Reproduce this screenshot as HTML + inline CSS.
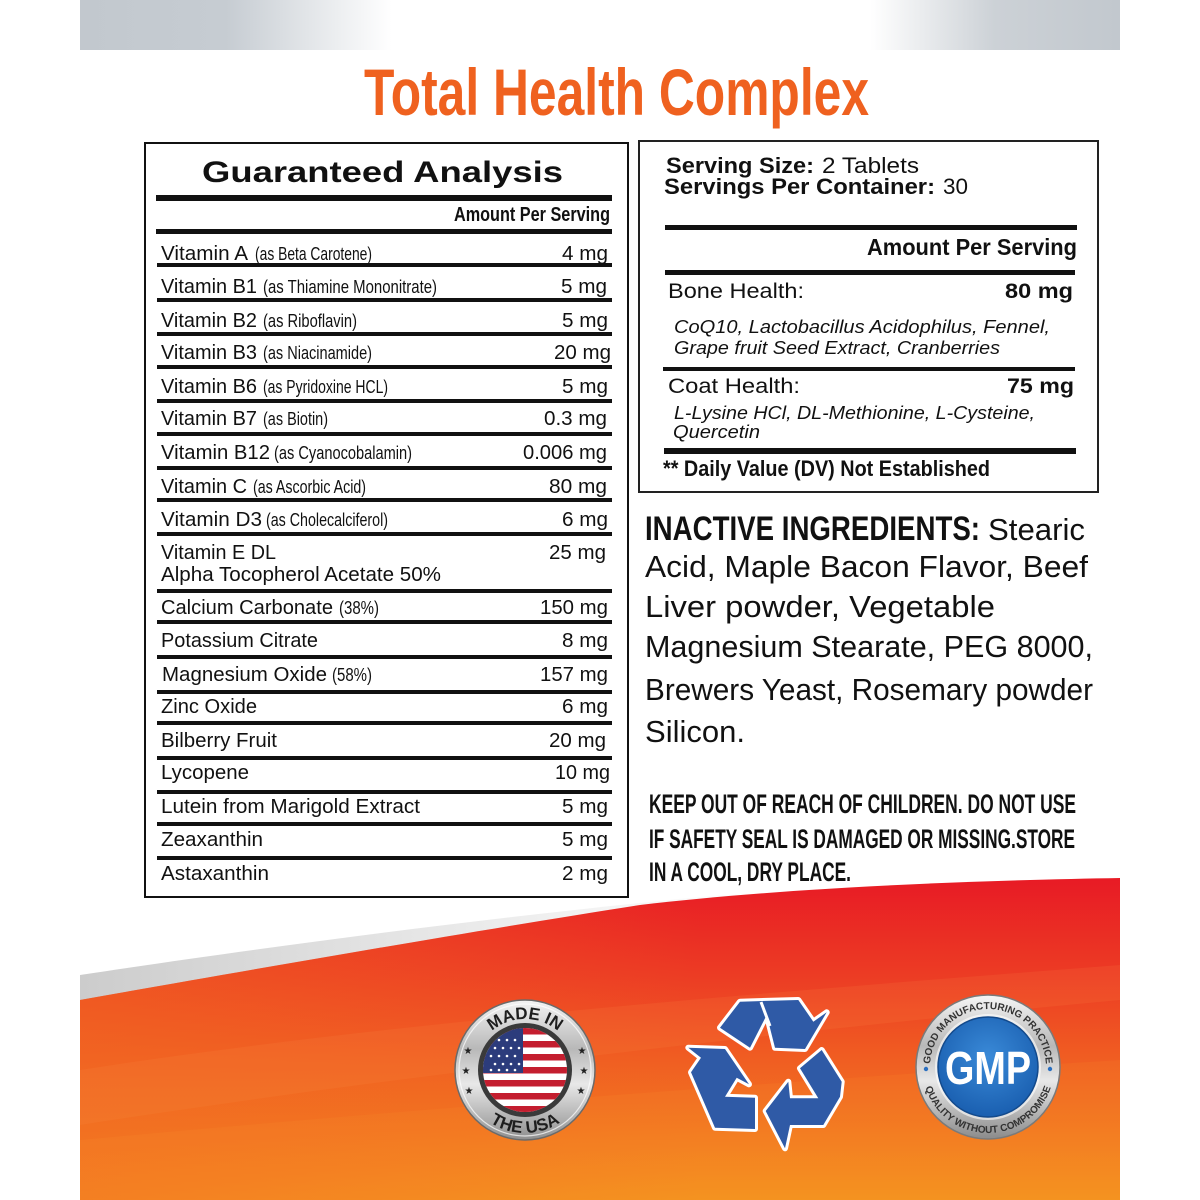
<!DOCTYPE html>
<html>
<head>
<meta charset="utf-8">
<style>
html,body{margin:0;padding:0;background:#fff;}
svg{display:block;}
text{font-family:"Liberation Sans",Arial,sans-serif;fill:#111;}
</style>
</head>
<body>
<svg width="1200" height="1200" viewBox="0 0 1200 1200" xmlns="http://www.w3.org/2000/svg">
<defs>
  <linearGradient id="topbar" x1="80" y1="0" x2="1120" y2="0" gradientUnits="userSpaceOnUse">
    <stop offset="0" stop-color="#c2c8ce"/>
    <stop offset="0.14" stop-color="#c6ccd2"/>
    <stop offset="0.30" stop-color="#ffffff"/>
    <stop offset="0.76" stop-color="#ffffff"/>
    <stop offset="0.88" stop-color="#ccd1d6"/>
    <stop offset="1" stop-color="#c2c8ce"/>
  </linearGradient>
  <linearGradient id="orange" x1="0" y1="880" x2="0" y2="1200" gradientUnits="userSpaceOnUse">
    <stop offset="0" stop-color="#e81b25"/>
    <stop offset="0.3" stop-color="#ec3c24"/>
    <stop offset="0.55" stop-color="#f05c22"/>
    <stop offset="0.8" stop-color="#f27a20"/>
    <stop offset="1" stop-color="#f3921e"/>
  </linearGradient>
  <linearGradient id="leftglow" x1="80" y1="0" x2="700" y2="0" gradientUnits="userSpaceOnUse">
    <stop offset="0" stop-color="#f26a22" stop-opacity="0.55"/>
    <stop offset="1" stop-color="#f26a22" stop-opacity="0"/>
  </linearGradient>
  <linearGradient id="swoosh" x1="80" y1="0" x2="760" y2="0" gradientUnits="userSpaceOnUse">
    <stop offset="0" stop-color="#cccccc"/>
    <stop offset="0.5" stop-color="#e6e6e6"/>
    <stop offset="1" stop-color="#ffffff"/>
  </linearGradient>
  <linearGradient id="silver" x1="0" y1="-70" x2="0" y2="70" gradientUnits="userSpaceOnUse">
    <stop offset="0" stop-color="#f4f4f4"/>
    <stop offset="0.35" stop-color="#b8b8b8"/>
    <stop offset="0.6" stop-color="#e8e8e8"/>
    <stop offset="1" stop-color="#8e8e8e"/>
  </linearGradient>
  <radialGradient id="gmpblue" cx="0" cy="-10" r="60" gradientUnits="userSpaceOnUse">
    <stop offset="0" stop-color="#3a8ad8"/>
    <stop offset="1" stop-color="#1a5fb0"/>
  </radialGradient>
  <clipPath id="flagclip"><circle cx="0" cy="0" r="42"/></clipPath>
  <path id="usaTop" d="M -51,0 A 51 51 0 0 1 51,0" fill="none"/>
  <path id="usaBot" d="M -63,0 A 63 63 0 0 0 63,0" fill="none"/>
  <path id="gmpTop" d="M -58,0 A 58 58 0 0 1 58,0" fill="none"/>
  <path id="gmpBot" d="M -66,0 A 66 66 0 0 0 66,0" fill="none"/>
</defs>

<!-- top bar -->
<rect x="80" y="0" width="1040" height="50" fill="url(#topbar)"/>

<!-- title -->
<text x="364" y="115" font-size="66" font-weight="bold" style="fill:#ef611f" textLength="505" lengthAdjust="spacingAndGlyphs">Total Health Complex</text>

<!-- bottom background -->
<path d="M80,975 C260,948 480,918 720,895 C900,884 1040,879 1120,877 L1120,1200 L80,1200 Z" fill="url(#swoosh)"/>
<path d="M80,1000 C260,968 480,930 640,905 C800,886 1000,880 1120,878 L1120,1200 L80,1200 Z" fill="url(#orange)"/>
<path d="M80,1000 C260,968 480,930 640,905 L700,905 L700,1200 L80,1200 Z" fill="url(#leftglow)"/>
<path d="M80,1070 C400,1020 800,990 1120,965 L1120,1000 C800,1030 400,1075 80,1125 Z" fill="#ff9a50" opacity="0.12"/>
<path d="M80,1140 C400,1110 800,1080 1120,1060 L1120,1200 L80,1200 Z" fill="#ffa030" opacity="0.12"/>

<!-- LEFT BOX -->
<rect x="145" y="143" width="483" height="754" fill="#fff" stroke="#111" stroke-width="2"/>
<text x="202" y="182" font-size="30" font-weight="bold" textLength="361" lengthAdjust="spacingAndGlyphs">Guaranteed Analysis</text>
<rect x="156" y="195" width="456" height="6" fill="#111"/>
<text x="454" y="221" font-size="20" font-weight="bold" textLength="156" lengthAdjust="spacingAndGlyphs">Amount Per Serving</text>
<rect x="156" y="229" width="456" height="5" fill="#111"/>

<g font-size="20">
  <g fill="#111">
    <rect x="157" y="263" width="455" height="4"/>
    <rect x="157" y="298" width="455" height="4"/>
    <rect x="157" y="332" width="455" height="4"/>
    <rect x="157" y="365" width="455" height="4"/>
    <rect x="157" y="399" width="455" height="4"/>
    <rect x="157" y="432" width="455" height="4"/>
    <rect x="157" y="466" width="455" height="4"/>
    <rect x="157" y="498" width="455" height="4"/>
    <rect x="157" y="532" width="455" height="4"/>
    <rect x="157" y="589" width="455" height="4"/>
    <rect x="157" y="620" width="455" height="4"/>
    <rect x="157" y="655" width="455" height="4"/>
    <rect x="157" y="690" width="455" height="4"/>
    <rect x="157" y="721" width="455" height="4"/>
    <rect x="157" y="756" width="455" height="4"/>
    <rect x="157" y="790" width="455" height="4"/>
    <rect x="157" y="822" width="455" height="4"/>
    <rect x="157" y="856" width="455" height="4"/>
  </g>

  <text x="161" y="260" textLength="87" lengthAdjust="spacingAndGlyphs">Vitamin A</text>
  <text x="255" y="260" font-size="18" textLength="117" lengthAdjust="spacingAndGlyphs">(as Beta Carotene)</text>
  <text x="562" y="260" textLength="46" lengthAdjust="spacingAndGlyphs">4 mg</text>

  <text x="161" y="293" textLength="96" lengthAdjust="spacingAndGlyphs">Vitamin B1</text>
  <text x="263" y="293" font-size="18" textLength="174" lengthAdjust="spacingAndGlyphs">(as Thiamine Mononitrate)</text>
  <text x="561" y="293" textLength="46" lengthAdjust="spacingAndGlyphs">5 mg</text>

  <text x="161" y="327" textLength="96" lengthAdjust="spacingAndGlyphs">Vitamin B2</text>
  <text x="263" y="327" font-size="18" textLength="94" lengthAdjust="spacingAndGlyphs">(as Riboflavin)</text>
  <text x="562" y="327" textLength="46" lengthAdjust="spacingAndGlyphs">5 mg</text>

  <text x="161" y="359" textLength="96" lengthAdjust="spacingAndGlyphs">Vitamin B3</text>
  <text x="263" y="359" font-size="18" textLength="109" lengthAdjust="spacingAndGlyphs">(as Niacinamide)</text>
  <text x="554" y="359" textLength="57" lengthAdjust="spacingAndGlyphs">20 mg</text>

  <text x="161" y="393" textLength="96" lengthAdjust="spacingAndGlyphs">Vitamin B6</text>
  <text x="263" y="393" font-size="18" textLength="125" lengthAdjust="spacingAndGlyphs">(as Pyridoxine HCL)</text>
  <text x="562" y="393" textLength="46" lengthAdjust="spacingAndGlyphs">5 mg</text>

  <text x="161" y="425" textLength="96" lengthAdjust="spacingAndGlyphs">Vitamin B7</text>
  <text x="263" y="425" font-size="18" textLength="65" lengthAdjust="spacingAndGlyphs">(as Biotin)</text>
  <text x="544" y="425" textLength="63" lengthAdjust="spacingAndGlyphs">0.3 mg</text>

  <text x="161" y="459" textLength="109" lengthAdjust="spacingAndGlyphs">Vitamin B12</text>
  <text x="274" y="459" font-size="18" textLength="138" lengthAdjust="spacingAndGlyphs">(as Cyanocobalamin)</text>
  <text x="523" y="459" textLength="84" lengthAdjust="spacingAndGlyphs">0.006 mg</text>

  <text x="161" y="493" textLength="86" lengthAdjust="spacingAndGlyphs">Vitamin C</text>
  <text x="253" y="493" font-size="18" textLength="113" lengthAdjust="spacingAndGlyphs">(as Ascorbic Acid)</text>
  <text x="549" y="493" textLength="58" lengthAdjust="spacingAndGlyphs">80 mg</text>

  <text x="161" y="526" textLength="101" lengthAdjust="spacingAndGlyphs">Vitamin D3</text>
  <text x="266" y="526" font-size="18" textLength="122" lengthAdjust="spacingAndGlyphs">(as Cholecalciferol)</text>
  <text x="562" y="526" textLength="46" lengthAdjust="spacingAndGlyphs">6 mg</text>

  <text x="161" y="559" textLength="115" lengthAdjust="spacingAndGlyphs">Vitamin E DL</text>
  <text x="161" y="581" textLength="280" lengthAdjust="spacingAndGlyphs">Alpha Tocopherol Acetate 50%</text>
  <text x="549" y="559" textLength="57" lengthAdjust="spacingAndGlyphs">25 mg</text>

  <text x="161" y="614" textLength="172" lengthAdjust="spacingAndGlyphs">Calcium Carbonate</text>
  <text x="339" y="614" font-size="18" textLength="40" lengthAdjust="spacingAndGlyphs">(38%)</text>
  <text x="540" y="614" textLength="68" lengthAdjust="spacingAndGlyphs">150 mg</text>

  <text x="161" y="647" textLength="157" lengthAdjust="spacingAndGlyphs">Potassium Citrate</text>
  <text x="562" y="647" textLength="46" lengthAdjust="spacingAndGlyphs">8 mg</text>

  <text x="162" y="681" textLength="165" lengthAdjust="spacingAndGlyphs">Magnesium Oxide</text>
  <text x="332" y="681" font-size="18" textLength="40" lengthAdjust="spacingAndGlyphs">(58%)</text>
  <text x="540" y="681" textLength="68" lengthAdjust="spacingAndGlyphs">157 mg</text>

  <text x="161" y="713" textLength="96" lengthAdjust="spacingAndGlyphs">Zinc Oxide</text>
  <text x="562" y="713" textLength="46" lengthAdjust="spacingAndGlyphs">6 mg</text>

  <text x="161" y="747" textLength="116" lengthAdjust="spacingAndGlyphs">Bilberry Fruit</text>
  <text x="549" y="747" textLength="57" lengthAdjust="spacingAndGlyphs">20 mg</text>

  <text x="161" y="779" textLength="88" lengthAdjust="spacingAndGlyphs">Lycopene</text>
  <text x="555" y="779" textLength="55" lengthAdjust="spacingAndGlyphs">10 mg</text>

  <text x="161" y="813" textLength="259" lengthAdjust="spacingAndGlyphs">Lutein from Marigold Extract</text>
  <text x="562" y="813" textLength="46" lengthAdjust="spacingAndGlyphs">5 mg</text>

  <text x="161" y="846" textLength="102" lengthAdjust="spacingAndGlyphs">Zeaxanthin</text>
  <text x="562" y="846" textLength="46" lengthAdjust="spacingAndGlyphs">5 mg</text>

  <text x="161" y="880" textLength="108" lengthAdjust="spacingAndGlyphs">Astaxanthin</text>
  <text x="562" y="880" textLength="46" lengthAdjust="spacingAndGlyphs">2 mg</text>
</g>

<!-- RIGHT BOX -->
<rect x="639" y="141" width="459" height="351" fill="#fff" stroke="#222" stroke-width="2"/>
<text x="666" y="173" font-size="22" font-weight="bold" textLength="148" lengthAdjust="spacingAndGlyphs">Serving Size:</text>
<text x="822" y="173" font-size="22" textLength="97" lengthAdjust="spacingAndGlyphs">2 Tablets</text>
<text x="664" y="194" font-size="22" font-weight="bold" textLength="271" lengthAdjust="spacingAndGlyphs">Servings Per Container:</text>
<text x="943" y="194" font-size="22" textLength="25" lengthAdjust="spacingAndGlyphs">30</text>
<rect x="665" y="225" width="412" height="5" fill="#111"/>
<text x="867" y="255" font-size="23" font-weight="bold" textLength="210" lengthAdjust="spacingAndGlyphs">Amount Per Serving</text>
<rect x="665" y="270" width="410" height="5" fill="#111"/>
<text x="668" y="298" font-size="21" textLength="136" lengthAdjust="spacingAndGlyphs">Bone Health:</text>
<text x="1005" y="298" font-size="21" font-weight="bold" textLength="68" lengthAdjust="spacingAndGlyphs">80 mg</text>
<text x="674" y="333" font-size="18" font-style="italic" textLength="376" lengthAdjust="spacingAndGlyphs">CoQ10, Lactobacillus Acidophilus, Fennel,</text>
<text x="674" y="354" font-size="18" font-style="italic" textLength="326" lengthAdjust="spacingAndGlyphs">Grape fruit Seed Extract, Cranberries</text>
<rect x="663" y="367" width="412" height="4" fill="#111"/>
<text x="668" y="393" font-size="21" textLength="132" lengthAdjust="spacingAndGlyphs">Coat Health:</text>
<text x="1007" y="393" font-size="21" font-weight="bold" textLength="67" lengthAdjust="spacingAndGlyphs">75 mg</text>
<text x="674" y="419" font-size="18" font-style="italic" textLength="361" lengthAdjust="spacingAndGlyphs">L-Lysine HCl, DL-Methionine, L-Cysteine,</text>
<text x="673" y="438" font-size="18" font-style="italic" textLength="87" lengthAdjust="spacingAndGlyphs">Quercetin</text>
<rect x="664" y="448" width="412" height="6" fill="#111"/>
<text x="663" y="476" font-size="22" font-weight="bold" textLength="327" lengthAdjust="spacingAndGlyphs">** Daily Value (DV) Not Established</text>

<!-- INACTIVE INGREDIENTS -->
<text x="645" y="540" font-size="34" font-weight="bold" textLength="335" lengthAdjust="spacingAndGlyphs">INACTIVE INGREDIENTS:</text>
<text x="988" y="540" font-size="31" textLength="97" lengthAdjust="spacingAndGlyphs">Stearic</text>
<text x="645" y="577" font-size="31" textLength="443" lengthAdjust="spacingAndGlyphs">Acid, Maple Bacon Flavor, Beef</text>
<text x="645" y="617" font-size="31" textLength="350" lengthAdjust="spacingAndGlyphs">Liver powder, Vegetable</text>
<text x="645" y="657" font-size="31" textLength="448" lengthAdjust="spacingAndGlyphs">Magnesium  Stearate, PEG 8000,</text>
<text x="645" y="700" font-size="31" textLength="448" lengthAdjust="spacingAndGlyphs">Brewers Yeast, Rosemary powder</text>
<text x="645" y="742" font-size="31" textLength="100" lengthAdjust="spacingAndGlyphs">Silicon.</text>

<!-- WARNING -->
<text x="649" y="813" font-size="27" font-weight="bold" textLength="427" lengthAdjust="spacingAndGlyphs">KEEP OUT OF REACH OF CHILDREN.  DO NOT USE</text>
<text x="649" y="848" font-size="27" font-weight="bold" textLength="426" lengthAdjust="spacingAndGlyphs">IF SAFETY SEAL IS DAMAGED OR MISSING.STORE</text>
<text x="649" y="881" font-size="27" font-weight="bold" textLength="202" lengthAdjust="spacingAndGlyphs">IN A COOL, DRY PLACE.</text>

<!-- MADE IN USA badge -->
<g transform="translate(525,1070)">
  <circle r="70" fill="url(#silver)" stroke="#6a6a6a" stroke-width="1.5"/>
  <circle r="66" fill="none" stroke="#ffffff" stroke-width="1.2" opacity="0.7"/>
  <circle r="47" fill="#3a3a3a"/>
  <g clip-path="url(#flagclip)">
    <rect x="-42" y="-42" width="84" height="84" fill="#ffffff"/>
    <rect x="-42" y="-42" width="84" height="6.5" fill="#c41e2f"/>
    <rect x="-42" y="-29" width="84" height="6.5" fill="#c41e2f"/>
    <rect x="-42" y="-16" width="84" height="6.5" fill="#c41e2f"/>
    <rect x="-42" y="-3" width="84" height="6.5" fill="#c41e2f"/>
    <rect x="-42" y="10" width="84" height="6.5" fill="#c41e2f"/>
    <rect x="-42" y="23" width="84" height="6.5" fill="#c41e2f"/>
    <rect x="-42" y="36" width="84" height="6.5" fill="#c41e2f"/>
    <rect x="-42" y="-42" width="40" height="45" fill="#2c3c7c"/>
    <g fill="#ffffff">
      <circle cx="-34" cy="-30" r="1.3"/><circle cx="-26" cy="-30" r="1.3"/><circle cx="-18" cy="-30" r="1.3"/><circle cx="-10" cy="-30" r="1.3"/>
      <circle cx="-30" cy="-22" r="1.3"/><circle cx="-22" cy="-22" r="1.3"/><circle cx="-14" cy="-22" r="1.3"/><circle cx="-6" cy="-22" r="1.3"/>
      <circle cx="-34" cy="-14" r="1.3"/><circle cx="-26" cy="-14" r="1.3"/><circle cx="-18" cy="-14" r="1.3"/><circle cx="-10" cy="-14" r="1.3"/>
      <circle cx="-30" cy="-6" r="1.3"/><circle cx="-22" cy="-6" r="1.3"/><circle cx="-14" cy="-6" r="1.3"/><circle cx="-6" cy="-6" r="1.3"/>
      <circle cx="-34" cy="0" r="1.3"/><circle cx="-26" cy="0" r="1.3"/><circle cx="-18" cy="0" r="1.3"/><circle cx="-10" cy="0" r="1.3"/>
    </g>
  </g>
  <text font-size="17" font-weight="bold" style="fill:#1e1e1e"><textPath href="#usaTop" startOffset="50%" text-anchor="middle">MADE IN</textPath></text>
  <text font-size="17" font-weight="bold" style="fill:#1e1e1e"><textPath href="#usaBot" startOffset="50%" text-anchor="middle">THE USA</textPath></text>
  <g font-size="10" text-anchor="middle">
    <text x="-57" y="-16" style="fill:#222">★</text>
    <text x="-59" y="4" style="fill:#222">★</text>
    <text x="-56" y="24" style="fill:#222">★</text>
    <text x="57" y="-16" style="fill:#222">★</text>
    <text x="59" y="4" style="fill:#222">★</text>
    <text x="56" y="24" style="fill:#222">★</text>
  </g>
</g>

<!-- Recycle symbol -->
<g fill="#2f5aa6" stroke="#ffffff" stroke-width="6" stroke-linejoin="round" paint-order="stroke">
  <!-- top piece -->
  <polygon points="720,1027.7 740,1001.7 798.3,1000 813.3,1021.7 826.7,1012.3 805,1049 775,1047.7 766.7,1015 750,1047.7"/>
  <!-- left piece -->
  <polygon points="688.3,1047.7 725,1049 749,1084.3 736.7,1077.7 725,1096.7 755,1097.7 755,1129 715,1127.7 691,1072.3 701,1057.7"/>
  <!-- right piece -->
  <polygon points="821.7,1050 841.7,1081.7 840,1096.7 823.3,1125 790,1125 785,1148.3 765.7,1111 788.3,1081.7 790,1098.3 818.3,1098.3 800,1068.3"/>
</g>
<line x1="761" y1="1002" x2="770" y2="1026" stroke="#ffffff" stroke-width="3"/>

<!-- GMP badge -->
<g transform="translate(988,1067)">
  <circle r="72" fill="url(#silver)" stroke="#7a7a7a" stroke-width="1.5"/>
  <circle r="53" fill="#ffffff" opacity="0.6"/>
  <circle r="50" fill="url(#gmpblue)" stroke="#134a8c" stroke-width="1.5"/>
  <text x="0" y="17" font-size="46" font-weight="bold" text-anchor="middle" style="fill:#ffffff" textLength="86" lengthAdjust="spacingAndGlyphs">GMP</text>
  <text font-size="10" font-weight="bold" style="fill:#333"><textPath href="#gmpTop" startOffset="50%" text-anchor="middle">GOOD MANUFACTURING PRACTICE</textPath></text>
  <text font-size="10" font-weight="bold" style="fill:#333"><textPath href="#gmpBot" startOffset="50%" text-anchor="middle">QUALITY WITHOUT COMPROMISE</textPath></text>
  <circle cx="-62" cy="2" r="2.2" fill="#2a6fc0"/>
  <circle cx="62" cy="2" r="2.2" fill="#2a6fc0"/>
</g>
</svg>
</body>
</html>
